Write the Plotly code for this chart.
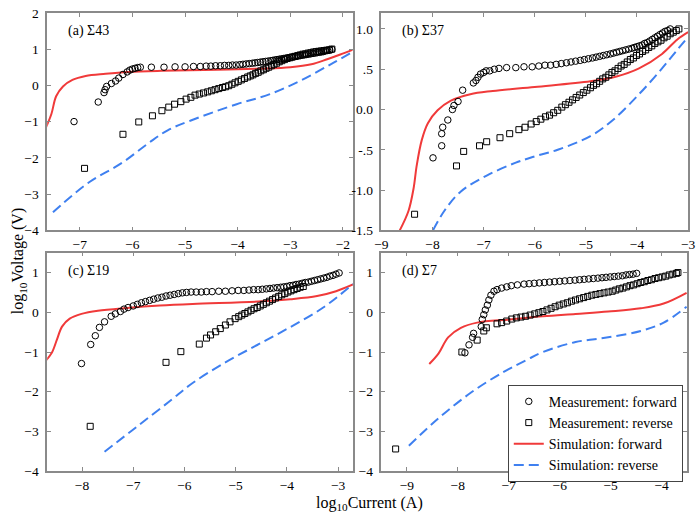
import plotly.graph_objects as go

# ---------------- data ----------------
# Panel (a) Sigma43
a_fwd_x = [-7.11, -6.65, -6.54, -6.52, -6.49, -6.40, -6.32, -6.26, -6.18, -6.10, -6.05, -6.00, -5.95, -5.90, -5.85,
           -5.64, -5.40, -5.19, -5.00, -4.84, -4.71, -4.60, -4.51, -4.42, -4.33, -4.25, -4.17, -4.10, -4.03, -3.96,
           -3.90, -3.84, -3.78, -3.72, -3.67, -3.62, -3.57, -3.52, -3.47, -3.42, -3.37, -3.33, -3.29, -3.25, -3.21,
           -3.17, -3.13, -3.09, -3.05, -3.01, -2.97, -2.93, -2.89, -2.85, -2.81, -2.77, -2.73, -2.69, -2.65, -2.61,
           -2.57, -2.53, -2.49, -2.45, -2.41, -2.37, -2.33, -2.29, -2.25, -2.21]
a_fwd_y = [-1.00, -0.46, -0.20, -0.12, -0.03, 0.05, 0.12, 0.20, 0.30, 0.37, 0.42, 0.45, 0.47, 0.49, 0.50,
           0.50, 0.50, 0.51, 0.51, 0.52, 0.52, 0.53, 0.53, 0.54, 0.54, 0.55, 0.55, 0.56, 0.56, 0.57,
           0.58, 0.59, 0.60, 0.61, 0.62, 0.63, 0.64, 0.65, 0.66, 0.67, 0.68, 0.69, 0.70, 0.71, 0.72,
           0.73, 0.74, 0.75, 0.76, 0.77, 0.78, 0.79, 0.80, 0.81, 0.82, 0.83, 0.84, 0.85, 0.86, 0.87,
           0.88, 0.89, 0.90, 0.91, 0.92, 0.93, 0.95, 0.96, 0.97, 0.99]
a_rev_x = [-6.91, -6.18, -5.88, -5.62, -5.44, -5.31, -5.20, -5.08, -4.98, -4.89, -4.81, -4.73, -4.65, -4.57, -4.50,
           -4.43, -4.36, -4.29, -4.23, -4.17, -4.11, -4.05, -3.99, -3.93, -3.87, -3.81, -3.76, -3.71, -3.66, -3.61,
           -3.56, -3.51, -3.46, -3.41, -3.36, -3.31, -3.26, -3.21, -3.16, -3.11, -3.06, -3.01, -2.96, -2.91, -2.86,
           -2.81, -2.76, -2.71, -2.66, -2.61, -2.56, -2.51, -2.46, -2.41, -2.36, -2.31, -2.26, -2.21]
a_rev_y = [-2.29, -1.35, -1.01, -0.84, -0.70, -0.60, -0.52, -0.45, -0.38, -0.33, -0.27, -0.24, -0.21, -0.18, -0.15,
           -0.12, -0.09, -0.06, -0.04, -0.01, 0.03, 0.07, 0.11, 0.15, 0.19, 0.23, 0.26, 0.29, 0.33, 0.36,
           0.40, 0.43, 0.47, 0.50, 0.54, 0.58, 0.61, 0.65, 0.68, 0.71, 0.74, 0.76, 0.78, 0.80, 0.82,
           0.84, 0.86, 0.87, 0.89, 0.90, 0.92, 0.93, 0.94, 0.95, 0.96, 0.97, 0.98, 1.00]
a_simf_x = [-7.64, -7.54, -7.45, -7.32, -7.14, -6.89, -6.51, -6.08, -5.45, -4.64, -3.59, -3.00, -2.60, -2.30, -2.05, -1.82]
a_simf_y = [-1.15, -0.79, -0.30, -0.03, 0.15, 0.26, 0.32, 0.37, 0.40, 0.42, 0.46, 0.50, 0.58, 0.72, 0.85, 0.98]
a_simr_x = [-7.51, -6.83, -6.20, -5.70, -5.33, -4.89, -4.02, -3.40, -2.78, -2.16, -1.82]
a_simr_y = [-3.50, -2.68, -2.14, -1.60, -1.24, -0.97, -0.52, -0.25, 0.15, 0.64, 0.92]

# Panel (b) Sigma37
b_fwd_x = [-7.99, -7.82, -7.82, -7.80, -7.70, -7.61, -7.58, -7.50, -7.41, -7.20, -7.15, -7.11, -7.06, -7.00, -6.95,
           -6.88, -6.79, -6.70, -6.55, -6.37, -6.21, -6.05, -5.92, -5.80, -5.69, -5.58, -5.48, -5.38, -5.29, -5.20,
           -5.11, -5.03, -4.95, -4.87, -4.80, -4.73, -4.66, -4.59, -4.52, -4.46, -4.40, -4.34, -4.28, -4.22, -4.16,
           -4.10, -4.05, -4.00, -3.95, -3.90, -3.85, -3.80, -3.75, -3.70, -3.65, -3.60, -3.55, -3.50, -3.45, -3.40, -3.35]
b_fwd_y = [-0.60, -0.45, -0.30, -0.22, -0.13, 0.00, 0.05, 0.10, 0.24, 0.33, 0.36, 0.40, 0.44, 0.46, 0.48,
           0.48, 0.50, 0.51, 0.52, 0.52, 0.53, 0.53, 0.54, 0.55, 0.55, 0.56, 0.57, 0.58, 0.59, 0.60,
           0.61, 0.62, 0.63, 0.64, 0.65, 0.66, 0.67, 0.68, 0.69, 0.70, 0.71, 0.72, 0.73, 0.74, 0.75,
           0.76, 0.77, 0.78, 0.79, 0.80, 0.82, 0.83, 0.85, 0.87, 0.89, 0.91, 0.93, 0.95, 0.97, 0.98, 1.00]
b_rev_x = [-8.35, -7.53, -7.39, -7.08, -6.94, -6.68, -6.49, -6.31, -6.19, -6.07, -5.97, -5.88, -5.79, -5.71, -5.63,
           -5.55, -5.47, -5.40, -5.33, -5.26, -5.19, -5.12, -5.05, -4.98, -4.91, -4.85, -4.79, -4.73, -4.67, -4.61,
           -4.55, -4.49, -4.43, -4.37, -4.31, -4.25, -4.19, -4.13, -4.07, -4.01, -3.95, -3.89, -3.83, -3.77, -3.71,
           -3.65, -3.59, -3.53, -3.47, -3.41, -3.35, -3.29, -3.23, -3.18]
b_rev_y = [-1.30, -0.70, -0.52, -0.45, -0.40, -0.35, -0.30, -0.25, -0.22, -0.18, -0.15, -0.12, -0.09, -0.07, -0.04,
           -0.01, 0.03, 0.06, 0.09, 0.12, 0.15, 0.18, 0.21, 0.24, 0.27, 0.30, 0.32, 0.35, 0.38, 0.40,
           0.43, 0.46, 0.48, 0.51, 0.54, 0.56, 0.59, 0.62, 0.64, 0.67, 0.69, 0.72, 0.74, 0.77, 0.79,
           0.82, 0.84, 0.86, 0.89, 0.91, 0.94, 0.96, 0.98, 1.00]
b_simf_x = [-8.64, -8.47, -8.37, -8.31, -8.21, -8.09, -7.90, -7.64, -7.26, -6.82, -6.00, -4.91, -4.40, -3.96, -3.51, -3.21, -3.00]
b_simf_y = [-1.50, -1.26, -0.98, -0.70, -0.38, -0.17, -0.01, 0.11, 0.19, 0.23, 0.28, 0.35, 0.41, 0.51, 0.69, 0.87, 0.96]
b_simr_x = [-7.99, -7.77, -7.45, -6.94, -6.37, -5.99, -5.55, -4.91, -4.47, -3.96, -3.51, -3.20, -3.00]
b_simr_y = [-1.50, -1.26, -1.02, -0.82, -0.66, -0.58, -0.50, -0.33, -0.13, 0.19, 0.51, 0.75, 0.90]

# Panel (c) Sigma19
c_fwd_x = [-8.01, -7.83, -7.74, -7.66, -7.56, -7.43, -7.35, -7.25, -7.18, -7.10, -7.00, -6.92, -6.84, -6.76, -6.68,
           -6.60, -6.52, -6.44, -6.36, -6.28, -6.20, -6.12, -6.04, -5.96, -5.87, -5.77, -5.67, -5.57, -5.46, -5.33,
           -5.20, -5.07, -4.95, -4.84, -4.74, -4.65, -4.56, -4.48, -4.40, -4.33, -4.26, -4.19, -4.12, -4.06, -4.00,
           -3.94, -3.88, -3.82, -3.76, -3.70, -3.64, -3.58, -3.52, -3.46, -3.40, -3.34, -3.28, -3.22, -3.16, -3.10,
           -3.04, -2.98]
c_fwd_y = [-1.29, -0.81, -0.59, -0.38, -0.24, -0.10, -0.04, 0.02, 0.08, 0.12, 0.16, 0.20, 0.24, 0.27, 0.30,
           0.33, 0.36, 0.38, 0.41, 0.43, 0.45, 0.47, 0.49, 0.50, 0.51, 0.51, 0.51, 0.52, 0.52, 0.53,
           0.53, 0.54, 0.55, 0.55, 0.56, 0.57, 0.57, 0.58, 0.59, 0.60, 0.61, 0.62, 0.63, 0.64, 0.65,
           0.67, 0.68, 0.70, 0.71, 0.73, 0.75, 0.76, 0.78, 0.80, 0.82, 0.84, 0.86, 0.88, 0.91, 0.93,
           0.96, 0.99]
c_rev_x = [-7.84, -6.36, -6.07, -5.71, -5.57, -5.49, -5.39, -5.30, -5.20, -5.11, -5.01, -4.94, -4.88, -4.82, -4.76,
           -4.70, -4.64, -4.58, -4.52, -4.46, -4.40, -4.34, -4.28, -4.22, -4.16, -4.10, -4.04, -3.98, -3.92, -3.86,
           -3.80, -3.74, -3.68]
c_rev_y = [-2.87, -1.26, -0.99, -0.80, -0.65, -0.57, -0.49, -0.41, -0.32, -0.24, -0.16, -0.11, -0.07, -0.03, 0.01,
           0.05, 0.09, 0.12, 0.16, 0.20, 0.24, 0.28, 0.32, 0.36, 0.40, 0.44, 0.47, 0.51, 0.54, 0.57,
           0.60, 0.63, 0.65]
c_simf_x = [-8.71, -8.59, -8.49, -8.39, -8.24, -8.01, -7.69, -7.12, -6.48, -5.84, -4.56, -3.93, -3.41, -3.04, -2.71]
c_simf_y = [-1.22, -1.02, -0.69, -0.36, -0.16, -0.04, 0.04, 0.11, 0.17, 0.21, 0.27, 0.33, 0.41, 0.53, 0.70]
c_simr_x = [-7.56, -6.93, -6.29, -5.84, -5.20, -4.56, -3.93, -3.29, -2.71]
c_simr_y = [-3.51, -2.88, -2.24, -1.78, -1.26, -0.81, -0.37, 0.12, 0.71]

# Panel (d) Sigma7
d_fwd_x = [-7.86, -7.78, -7.71, -7.69, -7.54, -7.52, -7.49, -7.46, -7.42, -7.39, -7.35, -7.29, -7.23, -7.14, -7.04,
           -6.95, -6.83, -6.70, -6.60, -6.50, -6.40, -6.30, -6.20, -6.10, -6.00, -5.90, -5.80, -5.70, -5.61, -5.52,
           -5.43, -5.34, -5.25, -5.17, -5.09, -5.01, -4.93, -4.85, -4.77, -4.70, -4.63, -4.56, -4.49]
d_fwd_y = [-1.02, -0.82, -0.63, -0.53, -0.36, -0.18, -0.06, 0.06, 0.18, 0.31, 0.43, 0.53, 0.57, 0.61, 0.64,
           0.67, 0.69, 0.71, 0.72, 0.73, 0.74, 0.75, 0.76, 0.77, 0.78, 0.79, 0.80, 0.81, 0.82, 0.83,
           0.84, 0.85, 0.86, 0.87, 0.88, 0.89, 0.90, 0.91, 0.92, 0.94, 0.95, 0.96, 0.98]
d_rev_x = [-9.22, -7.92, -7.62, -7.49, -7.44, -7.23, -7.14, -7.04, -6.94, -6.85, -6.76, -6.67, -6.58, -6.49, -6.41,
           -6.33, -6.25, -6.17, -6.09, -6.01, -5.93, -5.85, -5.77, -5.69, -5.61, -5.53, -5.45, -5.37, -5.29, -5.21,
           -5.13, -5.05, -4.97, -4.90, -4.83, -4.76, -4.69, -4.62, -4.55, -4.48, -4.41, -4.34, -4.27, -4.20, -4.13,
           -4.06, -3.99, -3.92, -3.85, -3.78, -3.71, -3.68]
d_rev_y = [-3.44, -1.00, -0.70, -0.47, -0.39, -0.29, -0.26, -0.22, -0.17, -0.14, -0.12, -0.10, -0.07, -0.04, -0.01,
           0.02, 0.06, 0.10, 0.14, 0.18, 0.21, 0.24, 0.28, 0.31, 0.34, 0.37, 0.40, 0.43, 0.45, 0.47,
           0.49, 0.51, 0.53, 0.56, 0.59, 0.61, 0.64, 0.67, 0.69, 0.72, 0.75, 0.77, 0.80, 0.82, 0.85,
           0.87, 0.89, 0.91, 0.94, 0.96, 0.98, 1.00]
d_simf_x = [-8.56, -8.38, -8.19, -7.94, -7.62, -6.98, -6.33, -5.69, -5.05, -4.41, -3.96, -3.51]
d_simf_y = [-1.30, -1.04, -0.63, -0.39, -0.26, -0.18, -0.10, -0.04, 0.02, 0.10, 0.22, 0.49]
d_simr_x = [-8.96, -8.38, -7.74, -7.10, -6.65, -6.33, -5.69, -5.05, -4.41, -3.96, -3.51]
d_simr_y = [-3.36, -2.67, -2.02, -1.50, -1.20, -1.00, -0.75, -0.63, -0.47, -0.26, 0.14]

panel_labels = ["(a) \u03a343", "(b) \u03a337", "(c) \u03a319", "(d) \u03a37"]
legend_names = ["Measurement: forward", "Measurement: reverse", "Simulation: forward", "Simulation: reverse"]
b_ytick_vals = [1.0, 0.5, 0.0, -0.5, -1.0, -1.5]
b_ytick_text = ["1.0", ".5", "0.0", "-.5", "-1.0", "-1.5"]

# ---------------- figure ----------------
W, H = 700, 520
FONT = "Liberation Serif, Times New Roman, serif"
RED = "#f03a3a"
BLUE = "#3f80f0"
FRAME = "#8a8a8a"

panels = [
    (a_fwd_x, a_fwd_y, a_rev_x, a_rev_y, a_simf_x, a_simf_y, a_simr_x, a_simr_y),
    (b_fwd_x, b_fwd_y, b_rev_x, b_rev_y, b_simf_x, b_simf_y, b_simr_x, b_simr_y),
    (c_fwd_x, c_fwd_y, c_rev_x, c_rev_y, c_simf_x, c_simf_y, c_simr_x, c_simr_y),
    (d_fwd_x, d_fwd_y, d_rev_x, d_rev_y, d_simf_x, d_simf_y, d_simr_x, d_simr_y),
]

# pixel boxes (left, top, right, bottom)
boxes = [(41, 6, 353, 230), (382, 6, 695, 230), (41, 253, 353, 478), (382, 253, 694, 478)]
xranges = [[-7.62, -1.81], [-9, -3], [-8.68, -2.71], [-9.5, -3.5]]
yranges = [[-4, 2], [-1.5, 1.2], [-4, 1.5], [-4, 1.5]]
xticks = [[-7, -6, -5, -4, -3, -2], [-9, -8, -7, -6, -5, -4, -3], [-8, -7, -6, -5, -4, -3], [-9, -8, -7, -6, -5, -4]]

fig = go.Figure()
for i, p in enumerate(panels):
    fx, fy, rx, ry, sfx, sfy, srx, sry = p
    xa = "x" if i == 0 else f"x{i+1}"
    ya = "y" if i == 0 else f"y{i+1}"
    show = (i == 3)
    fig.add_trace(go.Scatter(x=sfx, y=sfy, mode="lines", line=dict(color=RED, width=2, shape="spline", smoothing=1.0),
                             name=legend_names[2], showlegend=show, xaxis=xa, yaxis=ya, legendrank=3))
    fig.add_trace(go.Scatter(x=srx, y=sry, mode="lines", line=dict(color=BLUE, width=2, dash="10px,5px", shape="spline", smoothing=1.0),
                             name=legend_names[3], showlegend=show, xaxis=xa, yaxis=ya, legendrank=4))
    fig.add_trace(go.Scatter(x=rx, y=ry, mode="markers",
                             marker=dict(symbol="square-open", size=6, color="black", line=dict(width=1, color="black")),
                             name=legend_names[1], showlegend=show, xaxis=xa, yaxis=ya, legendrank=2))
    fig.add_trace(go.Scatter(x=fx, y=fy, mode="markers",
                             marker=dict(symbol="circle-open", size=6.5, color="black", line=dict(width=1, color="black")),
                             name=legend_names[0], showlegend=show, xaxis=xa, yaxis=ya, legendrank=1))

layout = dict(width=W, height=H, margin=dict(l=0, r=0, t=0, b=0),
              paper_bgcolor="white", plot_bgcolor="white",
              font=dict(family=FONT, size=13, color="black"))
annotations = []
for i in range(4):
    l, t, r, b = boxes[i]
    xk = "xaxis" if i == 0 else f"xaxis{i+1}"
    yk = "yaxis" if i == 0 else f"yaxis{i+1}"
    ya = "y" if i == 0 else f"y{i+1}"
    xa = "x" if i == 0 else f"x{i+1}"
    layout[xk] = dict(domain=[l / W, r / W], range=xranges[i], anchor=ya, tickvals=xticks[i],
                      showline=True, mirror="ticks", linecolor=FRAME, linewidth=1.5,
                      ticks="inside", ticklen=4, tickcolor=FRAME, showgrid=False, zeroline=False,
                      ticklabeloverflow="allow", ticklabelstandoff=1,
                      tickfont=dict(family=FONT, size=13.5, color="black"))
    ydict = dict(domain=[1 - b / H, 1 - t / H], range=yranges[i], anchor=xa,
                 showline=True, mirror="ticks", linecolor=FRAME, linewidth=1.5,
                 ticks="inside", ticklen=4, tickcolor=FRAME, showgrid=False, zeroline=False,
                 ticklabeloverflow="allow", ticklabelstandoff=4,
                 tickfont=dict(family=FONT, size=13.5, color="black"))
    if i == 1:
        ydict.update(tickvals=b_ytick_vals, ticktext=b_ytick_text)
    else:
        ydict.update(dtick=1, tick0=0)
    layout[yk] = ydict
    annotations.append(dict(text=panel_labels[i], xref="paper", yref="paper",
                            x=(l + 19) / W, y=1 - (t + 19) / H, xanchor="left", yanchor="middle",
                            showarrow=False, font=dict(family=FONT, size=14, color="black")))

annotations.append(dict(text="log<sub>10</sub>Voltage (V)", xref="paper", yref="paper",
                        x=12 / W, y=1 - 262 / H, textangle=-90, xanchor="center", yanchor="middle",
                        showarrow=False, font=dict(family=FONT, size=16, color="black")))
annotations.append(dict(text="log<sub>10</sub>Current (A)", xref="paper", yref="paper",
                        x=370 / W, y=1 - 511 / H, xanchor="center", yanchor="middle",
                        showarrow=False, font=dict(family=FONT, size=16, color="black")))
layout["annotations"] = annotations
layout["legend"] = dict(x=511 / W, y=1 - 389 / H, xanchor="left", yanchor="top",
                        bgcolor="white", bordercolor="#444", borderwidth=1,
                        font=dict(family=FONT, size=14, color="black"), tracegroupgap=0)
fig.update_layout(**layout)
fig.write_html("out.html")
